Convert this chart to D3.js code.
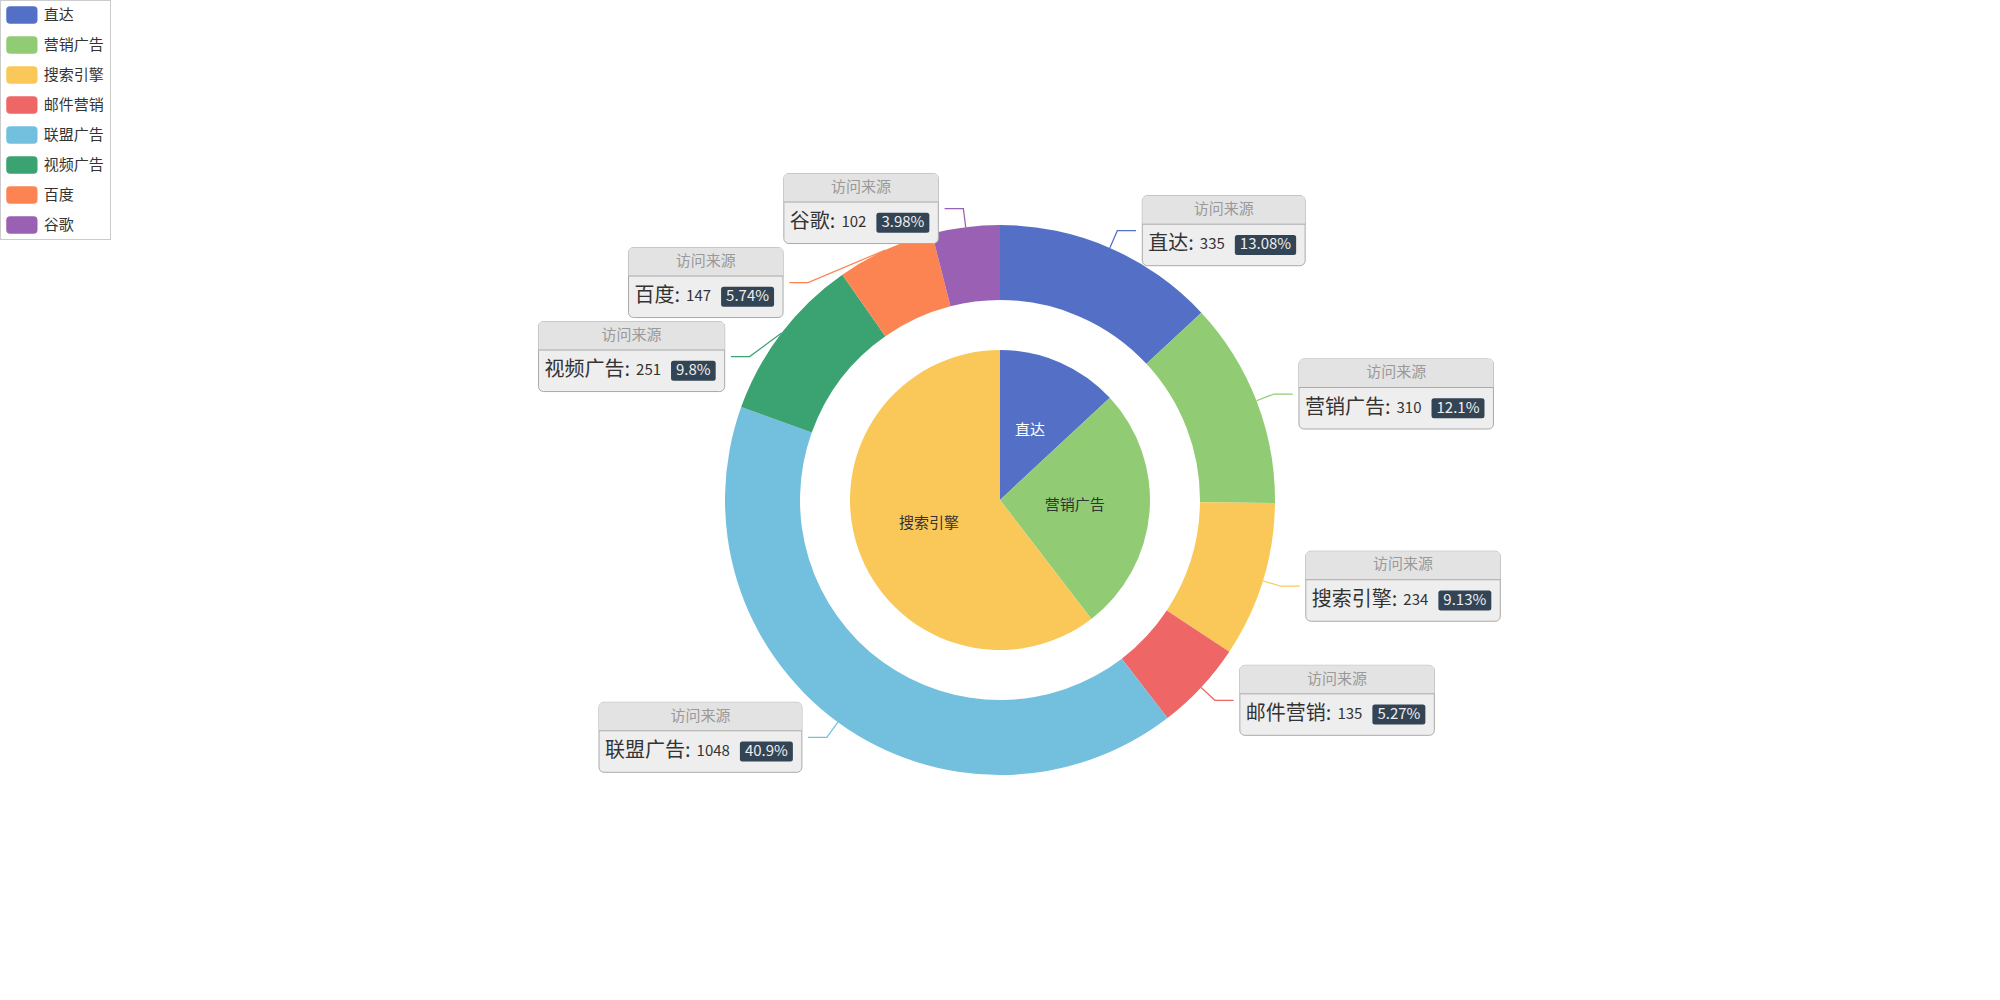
<!DOCTYPE html>
<html>
<head>
<meta charset="utf-8">
<script src="https://cdn.jsdelivr.net/npm/d3@7"></script>
<style>
  html, body { margin: 0; padding: 0; background: #fff; }
  svg { display: block; }
  text { font-family: "Noto Sans CJK SC", "Microsoft YaHei", sans-serif; }
</style>
</head>
<body>
<svg id="chart" width="2000" height="1000"></svg>
<script>
// ---- data ----
const seriesName = "访问来源";
const innerNames = ["直达", "营销广告", "搜索引擎"];
const innerValues = [335, 679, 1548];
const outerNames = ["直达", "营销广告", "搜索引擎", "邮件营销", "联盟广告", "视频广告", "百度", "谷歌"];
const outerValues = [335, 310, 234, 135, 1048, 251, 147, 102];
const legendNames = ["直达", "营销广告", "搜索引擎", "邮件营销", "联盟广告", "视频广告", "百度", "谷歌"];
const palette = ["#5470c6", "#91cc75", "#fac858", "#ee6666", "#73c0de", "#3ba272", "#fc8452", "#9a60b4"];

// ---- layout ----
const W = 2000, H = 1000, S = 1.25;
const cx = W / 2, cy = H / 2;
const base = Math.min(W, H) / 2;
const rInner = base * 0.30, rRing0 = base * 0.40, rRing1 = base * 0.55;
const len1 = 15 * S, len2 = 15 * S, distToLine = 5 * S;
const boxH = 70, boxGap = 4;
const textDy = -3;

const color = d3.scaleOrdinal().domain(legendNames).range(palette);
const svg = d3.select("#chart");

const pie = d3.pie().sort(null).value(d => d.value);
const innerData = pie(innerNames.map((n, i) => ({ name: n, value: innerValues[i] })));
const outerData = pie(outerNames.map((n, i) => ({ name: n, value: outerValues[i] })));

// percentages with largest-remainder rounding (precision 2), like ECharts
function percentsWithPrecision(vals, precision) {
  const sum = d3.sum(vals);
  const digits = Math.pow(10, precision);
  const votes = vals.map(v => v / sum * digits * 100);
  const targetSeats = digits * 100;
  const seats = votes.map(v => Math.floor(v));
  let current = d3.sum(seats);
  const remainder = votes.map((v, i) => v - seats[i]);
  while (current < targetSeats) {
    let max = -Infinity, maxId = -1;
    remainder.forEach((r, i) => { if (r > max) { max = r; maxId = i; } });
    seats[maxId]++;
    remainder[maxId] = 0;
    current++;
  }
  return seats.map(s => s / digits);
}
const outerPercents = percentsWithPrecision(outerValues, 2);

const gPie = svg.append("g").attr("transform", `translate(${cx},${cy})`);

// inner pie
const arcInner = d3.arc().innerRadius(0).outerRadius(rInner);
gPie.selectAll("path.inner").data(innerData).join("path")
  .attr("class", "inner")
  .attr("d", arcInner)
  .attr("fill", d => color(d.data.name));

// outer ring
const arcOuter = d3.arc().innerRadius(rRing0).outerRadius(rRing1);
gPie.selectAll("path.outer").data(outerData).join("path")
  .attr("class", "outer")
  .attr("d", arcOuter)
  .attr("fill", d => color(d.data.name));

// inner labels
gPie.selectAll("text.innerLabel").data(innerData).join("text")
  .attr("class", "innerLabel")
  .attr("x", d => Math.sin((d.startAngle + d.endAngle) / 2) * rInner / 2)
  .attr("y", d => -Math.cos((d.startAngle + d.endAngle) / 2) * rInner / 2 - 2.5)
  .attr("text-anchor", "middle")
  .attr("dominant-baseline", "central")
  .attr("font-size", 15)
  .attr("fill", (d, i) => i === 0 ? "#fff" : "#333")
  .text(d => d.data.name);

// outer label layout (ECharts-like)
const items = outerData.map((d, i) => {
  const mid = (d.startAngle + d.endAngle) / 2;
  const dx = Math.sin(mid), dy = -Math.cos(mid);
  const dir = dx < 0 ? -1 : 1;
  const bx = cx + (rRing1 + len1) * dx, by = cy + (rRing1 + len1) * dy;
  return {
    d, dir, pct: outerPercents[i],
    ex: cx + rRing1 * dx, ey: cy + rRing1 * dy,
    by,
    labelX: bx + dir * (len2 + distToLine),   // box edge
    y: by,
  };
});

[-1, 1].forEach(dir => {
  const side = items.filter(it => it.dir === dir).sort((a, b) => a.y - b.y);
  let shifted = false;
  for (let i = 1; i < side.length; i++) {
    const minY = side[i - 1].y + boxH + boxGap;
    if (side[i].y < minY) { side[i].y = minY; shifted = true; }
  }
  if (!shifted) return;
  const rA = rRing1 + len1;
  const semis = [side.filter(it => it.y < cy), side.filter(it => it.y >= cy)];
  semis.forEach(list => {
    if (!list.length) return;
    let maxDy = -1, rB = rA;
    list.forEach(it => {
      const dyy = Math.abs(it.y - cy);
      if (dyy >= maxDy) {
        const dxx = it.labelX - cx - len2 * dir;
        rB = Math.abs(dxx) < rA ? Math.sqrt(dyy * dyy / (1 - dxx * dxx / rA / rA)) : rA;
        maxDy = dyy;
      }
    });
    list.forEach(it => {
      const dyy = Math.abs(it.y - cy);
      const ddx = Math.sqrt(Math.max(0, 1 - dyy * dyy / (rB * rB))) * rA;
      it.labelX = cx + (ddx + len2) * dir;
    });
  });
});
items.forEach(it => {
  it.by = it.y;
  it.x3 = it.labelX - it.dir * distToLine;
  it.bx = it.x3 - it.dir * len2;
});

// label lines
svg.append("g").selectAll("polyline").data(items).join("polyline")
  .attr("points", it => `${it.ex},${it.ey} ${it.bx},${it.by} ${it.x3},${it.by}`)
  .attr("fill", "none")
  .attr("stroke", it => color(it.d.data.name))
  .attr("stroke-width", 1.25);

// label boxes
const headerH = 28.5;
const gLabels = svg.append("g");
items.forEach(it => {
  const g = gLabels.append("g");
  const pctStr = (+it.pct.toFixed(2)) + "%";
  const tb = g.append("text").attr("font-size", 20).attr("fill", "#333")
    .attr("dominant-baseline", "central").text(it.d.data.name + ":");
  const tc = g.append("text").attr("font-size", 15).attr("fill", "#333")
    .attr("dominant-baseline", "central").text(it.d.data.value);
  const tp = g.append("text").attr("font-size", 15).attr("fill", "#eee")
    .attr("dominant-baseline", "central").text(pctStr);
  const wb = tb.node().getComputedTextLength();
  const wc = tc.node().getComputedTextLength();
  const wp = tp.node().getComputedTextLength();
  const padL = 6, gapBC = 6, gapCP = 10, perPad = 5, padR = 9;
  const perW = wp + perPad * 2;
  const bw = padL + wb + gapBC + wc + gapCP + perW + padR;
  const left = it.dir > 0 ? it.labelX : it.labelX - bw;
  const top = it.by - boxH / 2;
  g.attr("transform", `translate(${left},${top})`);
  const bodyY = headerH + (boxH - headerH) / 2;
  tb.attr("x", padL).attr("y", bodyY + textDy);
  tc.attr("x", padL + wb + gapBC).attr("y", bodyY + textDy + 1);
  const px = padL + wb + gapBC + wc + gapCP;
  tp.attr("x", px + perPad).attr("y", bodyY + textDy + 1);
  const r = 5;
  g.insert("rect", ":first-child")
    .attr("x", px).attr("y", bodyY - 10).attr("width", perW).attr("height", 20)
    .attr("rx", 2.5).attr("fill", "#334455");
  g.insert("line", ":first-child")
    .attr("x1", 0).attr("x2", bw).attr("y1", headerH).attr("y2", headerH)
    .attr("stroke", "#aaa").attr("stroke-width", 1);
  g.insert("path", ":first-child")
    .attr("d", `M0,${headerH} V${r} Q0,0 ${r},0 H${bw - r} Q${bw},0 ${bw},${r} V${headerH} Z`)
    .attr("fill", "#e3e3e3");
  g.insert("rect", ":first-child")
    .attr("x", 0).attr("y", 0).attr("width", bw).attr("height", boxH)
    .attr("rx", r).attr("fill", "#eee").attr("stroke", "#aaa").attr("stroke-width", 1);
  g.append("text").attr("x", bw / 2).attr("y", headerH / 2 + 0.5 + textDy)
    .attr("text-anchor", "middle").attr("dominant-baseline", "central")
    .attr("font-size", 15).attr("fill", "#999").text(seriesName);
});

// legend
const lg = svg.append("g");
const itemW = 25 * S, itemH = 14 * S, lgPad = 5 * S, lgGap = 10 * S;
const lItems = lg.selectAll("g.li").data(legendNames).join("g")
  .attr("class", "li")
  .attr("transform", (d, i) => `translate(${lgPad},${lgPad + i * (itemH + lgGap)})`);
lItems.append("rect").attr("width", itemW).attr("height", itemH).attr("rx", 4)
  .attr("fill", d => color(d));
const lTexts = lItems.append("text").attr("x", itemW + 5 * S).attr("y", itemH / 2 - 1.5)
  .attr("dominant-baseline", "central").attr("font-size", 15).attr("fill", "#333")
  .text(d => d);
let maxTW = 0;
lTexts.each(function () { maxTW = Math.max(maxTW, this.getComputedTextLength()); });
const lgW = lgPad + itemW + 5 * S + maxTW + lgPad;
const lgH = lgPad * 2 + legendNames.length * itemH + (legendNames.length - 1) * lgGap;
lg.insert("rect", ":first-child").attr("x", 0.5).attr("y", 0.5)
  .attr("width", lgW).attr("height", lgH - 1)
  .attr("fill", "#fff").attr("stroke", "#ccc").attr("stroke-width", 1);
</script>
</body>
</html>
